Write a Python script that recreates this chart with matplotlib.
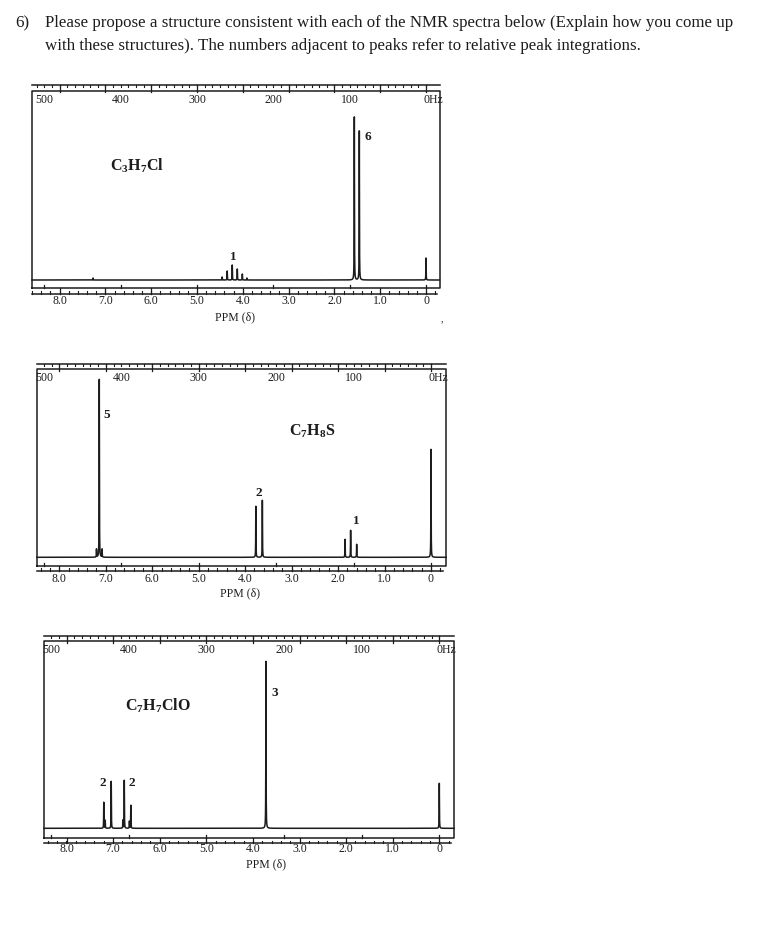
import numpy as np
import matplotlib
matplotlib.use("Agg")
import matplotlib.pyplot as plt

plt.rcParams['mathtext.fontset'] = 'custom'
plt.rcParams['mathtext.rm'] = 'Liberation Serif:bold'
plt.rcParams['mathtext.it'] = 'Liberation Serif:bold'
plt.rcParams['mathtext.bf'] = 'Liberation Serif:bold'

W, H = 768, 934

# ---------------- data ----------------
header_line1 = "Please propose a structure consistent with each of the NMR spectra below (Explain how you come up"
header_line2 = "with these structures). The numbers adjacent to peaks refer to relative peak integrations."

hz_labels = [500, 400, 300, 200, 100]
ppm_labels = ["8.0", "7.0", "6.0", "5.0", "4.0", "3.0", "2.0", "1.0", "0"]
ppm_label_pos = [8, 7, 6, 5, 4, 3, 2, 1, 0]

# spectrum 1: C3H7Cl
s1_formula = r"$\mathrm{C_3H_7Cl}$"
s1_pos = [7.27, 4.45, 4.34, 4.23, 4.12, 4.01, 3.91, 1.565, 1.456, 0.0]
s1_height = [2, 3, 9, 15, 11, 6, 2, 163, 149, 22]
s1_integ = ["1", "6"]
s1_integ_px = [(233, 257), (368, 137)]

# spectrum 2: C7H8S
s2_formula = r"$\mathrm{C_7H_8S}$"
s2_pos = [7.20, 7.14, 7.08, 3.77, 3.63, 1.85, 1.73, 1.60, 0.0]
s2_height = [8, 178, 8, 51, 57, 18, 27, 13, 108]
s2_integ = ["5", "2", "1"]
s2_integ_px = [(107, 415), (259, 493), (356, 521)]

# spectrum 3: C7H7ClO
s3_formula = r"$\mathrm{C_7H_7ClO}$"
s3_pos = [7.20, 7.17, 7.04, 6.79, 6.76, 6.65, 6.62, 3.72, 0.0]
s3_height = [26, 8, 47, 8, 48, 7, 23, 167, 45]
s3_integ = ["2", "2", "3"]
s3_integ_px = [(103, 783), (132, 783), (275, 693)]

# ---------------- layout (pixels) ----------------
panels = [
    dict(pos=s1_pos, h=s1_height, formula=s1_formula, fxy=(137, 166),
         integ=s1_integ, integ_px=s1_integ_px,
         box_l=32, box_r=439.5, zero_x=426, ppx=45.8,
         top_ruler=85, box_top=90.5, baseline=280, box_bottom=288,
         bot_ruler=293.5, hz_y=100, ppm_y=300.5, title=(235, 317)),
    dict(pos=s2_pos, h=s2_height, formula=s2_formula, fxy=(312, 431),
         integ=s2_integ, integ_px=s2_integ_px,
         box_l=37, box_r=446, zero_x=431, ppx=46.46,
         top_ruler=364, box_top=369.5, baseline=557.3, box_bottom=566,
         bot_ruler=570.5, hz_y=378, ppm_y=579.5, title=(240, 593)),
    dict(pos=s3_pos, h=s3_height, formula=s3_formula, fxy=(158, 706),
         integ=s3_integ, integ_px=s3_integ_px,
         box_l=44, box_r=454, zero_x=439.3, ppx=46.6,
         top_ruler=635.7, box_top=641, baseline=828.3, box_bottom=838,
         bot_ruler=843, hz_y=650, ppm_y=848.5, title=(266, 864)),
]

fig = plt.figure(figsize=(W / 100, H / 100), dpi=100)
fig.patch.set_facecolor("white")

serif = "Liberation Serif"
ink = "#1c1c1c"

fig.text(15 / W, 1 - 23 / H, "6)", family=serif, fontsize=12.2, va="center", ha="left", color=ink)
fig.text(45 / W, 1 - 23 / H, header_line1, family=serif, fontsize=12.2, va="center", ha="left", color=ink)
fig.text(45 / W, 1 - 46 / H, header_line2, family=serif, fontsize=12.2, va="center", ha="left", color=ink)

for p in panels:
    xl, xr = p["box_l"] - 20, p["box_r"] + 20
    yt, yb = p["top_ruler"] - 15, p["title"][1] + 12
    ax = fig.add_axes([xl / W, 1 - yb / H, (xr - xl) / W, (yb - yt) / H])
    zx, ppx, base = p["zero_x"], p["ppx"], p["baseline"]

    def X(px):
        return (zx - px) / ppx

    def Y(py):
        return base - py

    ax.set_xlim(X(xl), X(xr))
    ax.set_ylim(Y(yb), Y(yt))
    ax.axis("off")

    L, R = X(p["box_l"]), X(p["box_r"])
    lw = 1.1
    # box
    ax.plot([L, L, R, R, L], [Y(p["box_bottom"]), Y(p["box_top"]), Y(p["box_top"]),
                              Y(p["box_bottom"]), Y(p["box_bottom"])], color=ink, lw=lw)
    # top ruler
    ax.plot([L, R], [Y(p["top_ruler"])] * 2, color=ink, lw=lw)
    for hz in range(0, 520, 10):
        x = hz / 60.0
        if R <= x <= L:
            ax.plot([x, x], [Y(p["top_ruler"]), Y(p["top_ruler"] + 2.4)], color=ink, lw=0.8)
    for k in range(0, 9):
        ax.plot([k, k], [Y(p["top_ruler"]), Y(p["box_top"] + 1.5)], color=ink, lw=0.9)
    # bottom ruler
    ax.plot([L, X(p["box_r"] - 3)], [Y(p["bot_ruler"])] * 2, color=ink, lw=lw)
    for t in np.arange(-0.2, 8.61, 0.2):
        if R <= t <= L:
            ax.plot([t, t], [Y(p["bot_ruler"]), Y(p["bot_ruler"] - 2.4)], color=ink, lw=0.8)
    for k in range(0, 9):
        ax.plot([k, k], [Y(p["bot_ruler"]), Y(p["box_bottom"])], color=ink, lw=0.9)
    for hz in range(0, 600, 100):
        x = hz / 60.0
        if R <= x <= L:
            ax.plot([x, x], [Y(p["box_bottom"]), Y(p["box_bottom"] - 3)], color=ink, lw=0.9)

    # spectrum (Lorentzian line shape around each read-off peak)
    xs = np.linspace(L, R, 60000)
    ys = np.zeros_like(xs)
    w = 0.003
    for c, h in zip(p["pos"], p["h"]):
        ys += h / (1 + ((xs - c) / w) ** 2)
    ax.plot(xs, ys, color=ink, lw=1.1)

    # labels
    for hz in hz_labels:
        ax.text(hz / 60.0, Y(p["hz_y"]), str(hz), family=serif, fontsize=8.5,
                ha="center", va="center", color=ink)
    ax.text(X(zx - 2.5), Y(p["hz_y"]), "0Hz", family=serif, fontsize=8.5,
            ha="left", va="center", color=ink)
    for lab, v in zip(ppm_labels, ppm_label_pos):
        ax.text(v, Y(p["ppm_y"]), lab, family=serif, fontsize=8.5,
                ha="center", va="center", color=ink)
    tx, ty = p["title"]
    ax.text(X(tx), Y(ty), "PPM (δ)", family=serif, fontsize=8.5,
            ha="center", va="center", color=ink)
    fx, fy = p["fxy"]
    ax.text(X(fx), Y(fy), p["formula"], fontsize=11.5, ha="center", va="center", color=ink)
    for lab, (lx, ly) in zip(p["integ"], p["integ_px"]):
        ax.text(X(lx), Y(ly), lab, family=serif, fontweight="bold", fontsize=9.5,
                ha="center", va="center", color=ink)

fig.text(442 / W, 1 - 319 / H, ",", family=serif, fontsize=7, ha="center", va="center", color=ink)

fig.savefig("out.png", dpi=100, facecolor="white")
